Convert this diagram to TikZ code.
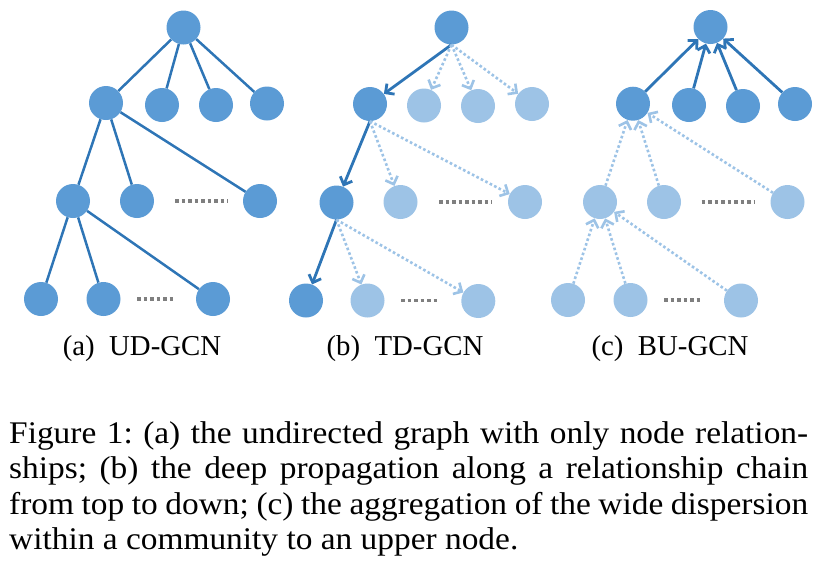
\documentclass[tikz,border=0pt]{standalone}
\usepackage{fontspec}
\setmainfont{Liberation Serif}
\newfontfamily\capfont[FakeStretch=1.06]{Liberation Serif}
\usepackage{tikz}
\usetikzlibrary{arrows.meta}
\usepackage{xcolor}
\definecolor{nodedark}{HTML}{5B9BD5}
\definecolor{nodelight}{HTML}{9DC3E6}
\definecolor{edgedark}{HTML}{2E75B6}
\definecolor{dotgray}{HTML}{7F7F7F}

\begin{document}
\begin{tikzpicture}[x=1pt, y=-1pt,
    dnode/.style={circle, fill=nodedark, minimum size=34pt, inner sep=0pt},
    lnode/.style={circle, fill=nodelight, minimum size=34pt, inner sep=0pt},
    uedge/.style={draw=edgedark, line width=2.5pt},
    sarrow/.style={draw=edgedark, line width=2.8pt, -{Straight Barb[length=6.5pt,width=13pt]}},
    darrow/.style={draw=nodelight, line width=2.6pt, dash pattern=on 2.6pt off 2.4pt, -{Straight Barb[length=6.5pt,width=13pt]}},
    gdots/.style={draw=dotgray, line width=3.5pt, dash pattern=on 3.5pt off 3pt},
    subcap/.style={anchor=base, font=\fontsize{28.8}{34}\selectfont}]
    \useasboundingbox (0,0) rectangle (823,563);

    % (a) undirected graph
    \node[dnode] (ar) at (183.5,27.5) {};
    \node[dnode] (a1) at (106,103) {};
    \node[dnode] (a2) at (162,105) {};
    \node[dnode] (a3) at (216,105) {};
    \node[dnode] (a4) at (267,103.5) {};
    \node[dnode] (a11) at (73,201) {};
    \node[dnode] (a12) at (137,201) {};
    \node[dnode] (a13) at (260,201) {};
    \node[dnode] (a111) at (41,299) {};
    \node[dnode] (a112) at (103.5,299) {};
    \node[dnode] (a113) at (213,299) {};
    \foreach \n in {a1,a2,a3,a4} \draw[uedge] (ar) -- (\n);
    \foreach \n in {a11,a12,a13} \draw[uedge] (a1) -- (\n);
    \foreach \n in {a111,a112,a113} \draw[uedge] (a11) -- (\n);
    \draw[gdots] (175,201) -- (228,201);
    \draw[gdots] (137,299) -- (176,299);
    \node[subcap] (capa) at (142,355) {(a)~~UD-GCN};

    % (b) top-down propagation
    \node[dnode] (br) at (451.5,27.5) {};
    \node[dnode] (b1) at (370,104) {};
    \node[lnode] (b2) at (424,105.5) {};
    \node[lnode] (b3) at (478,106) {};
    \node[lnode] (b4) at (532,104) {};
    \node[dnode] (b11) at (336.5,202.5) {};
    \node[lnode] (b12) at (400.5,202) {};
    \node[lnode] (b13) at (525,202) {};
    \node[dnode] (b111) at (306,300.5) {};
    \node[lnode] (b112) at (367.5,300.5) {};
    \node[lnode] (b113) at (478.3,301) {};
    \draw[sarrow] (br.south) -- (b1);
    \foreach \n in {b2,b3,b4} \draw[darrow] (br.south) -- (\n);
    \draw[sarrow] (b1.south) -- (b11);
    \foreach \n in {b12,b13} \draw[darrow] (b1.south) -- (\n);
    \draw[sarrow] (b11.south) -- (b111);
    \foreach \n in {b112,b113} \draw[darrow] (b11.south) -- (\n);
    \draw[gdots] (439,202) -- (492,202);
    \draw[gdots] (401,300.6) -- (440,300.6);
    \node[subcap] (capb) at (405,355) {(b)~~TD-GCN};

    % (c) bottom-up aggregation
    \node[dnode] (cr) at (710.5,27) {};
    \node[dnode] (c1) at (633,103.7) {};
    \node[dnode] (c2) at (689,105) {};
    \node[dnode] (c3) at (743,106) {};
    \node[dnode] (c4) at (795,104) {};
    \node[lnode] (c21) at (600,202) {};
    \node[lnode] (c22) at (664,202) {};
    \node[lnode] (c23) at (787.5,202) {};
    \node[lnode] (c31) at (568,300) {};
    \node[lnode] (c32) at (630.5,300) {};
    \node[lnode] (c33) at (741,300.5) {};
    \foreach \n in {c1,c2,c3,c4} \draw[sarrow] (\n) -- (cr);
    \foreach \n in {c21,c22,c23} \draw[darrow] (\n) -- (c1);
    \foreach \n in {c31,c32,c33} \draw[darrow] (\n) -- (c21);
    \draw[gdots] (701.7,202) -- (755,202);
    \draw[gdots] (664,300) -- (703,300);
    \node[subcap] (capc) at (670,355) {(c)~~BU-GCN};

    % caption
    \node[anchor=north west, inner sep=0pt, text width=799pt, align=justify,
          font=\capfont\fontsize{31.5}{35.5}\selectfont] (caption) at (9,421)
        {\frenchspacing\hyphenpenalty=10000 Figure 1: (a) the undirected graph with only node relation-\linebreak
         ships; (b) the deep propagation along a relationship chain\linebreak
         from top to down; (c) the aggregation of the wide dispersion\linebreak
         within a community to an upper node.};
\end{tikzpicture}
\end{document}
